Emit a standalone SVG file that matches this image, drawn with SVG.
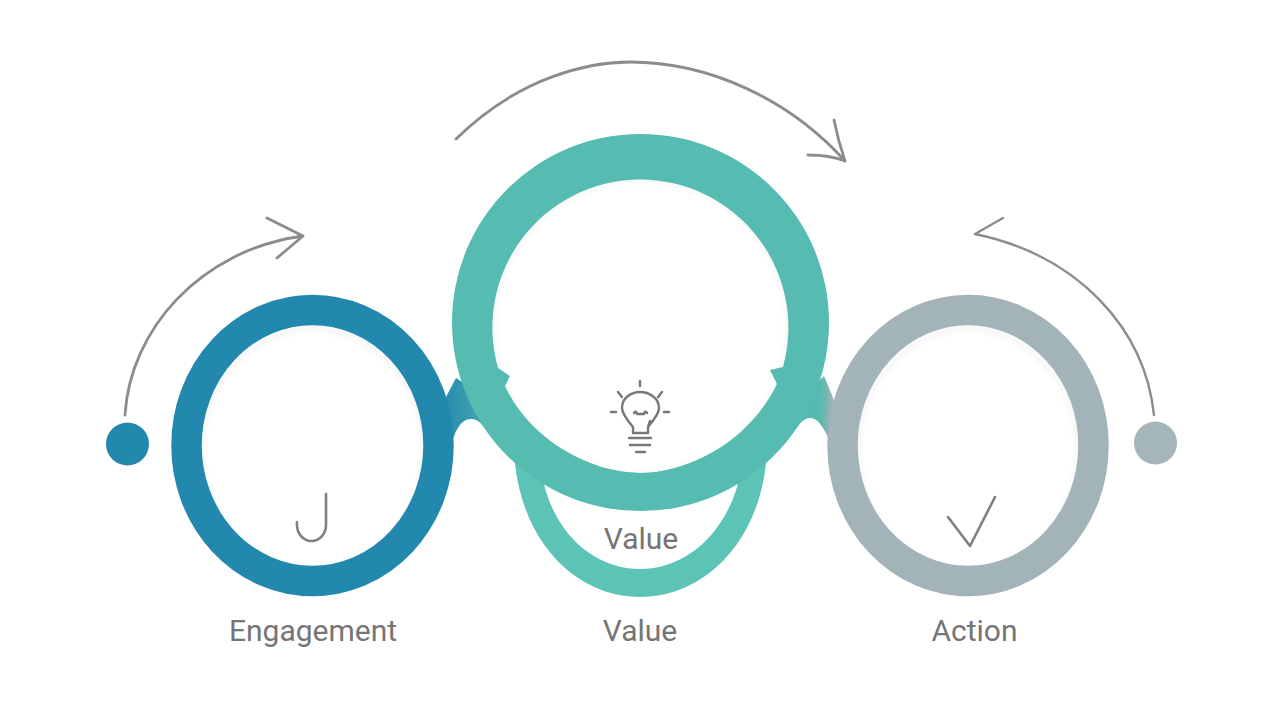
<svg xmlns="http://www.w3.org/2000/svg" width="1280" height="720" viewBox="0 0 1280 720">
<style>
.lbl{font-family:Roboto,"Liberation Sans",sans-serif;font-size:30px;fill:#757575;text-anchor:middle}
.arrow{fill:none;stroke:#8c8c8c;stroke-width:2.800;stroke-linecap:round;stroke-linejoin:round}
.thin{stroke-width:2.400}
.icon{fill:none;stroke:#808080;stroke-width:2.600;stroke-linecap:round;stroke-linejoin:round}
.bulb{fill:none;stroke:#777;stroke-width:2.400;stroke-linecap:round;stroke-linejoin:round}
.shade{fill:none;stroke:#c9c6d2;stroke-width:4;opacity:.22;filter:url(#soft)}
</style>
<defs>
<linearGradient id="bl" x1="0" x2="1" y1="0" y2="0"><stop offset="0" stop-color="#2388ae"/><stop offset="1" stop-color="#48acb0"/></linearGradient>
<linearGradient id="br" x1="0" x2="1" y1="0" y2="0"><stop offset="0" stop-color="#55b9ae"/><stop offset=".6" stop-color="#58b9ae"/><stop offset=".85" stop-color="#9db3b5"/></linearGradient>
<filter id="soft" x="-10%" y="-10%" width="120%" height="120%"><feGaussianBlur stdDeviation="2.500"/></filter>
</defs>
<rect width="1280" height="720" fill="#fff"/>
<g id="connectors">
<path class="arrow" d="M125,415C130,330 200,250 303,236M267,218L303,236L277,258"/>
<path class="arrow" d="M456,139C520,76 590,62 630,62C710,62 790,100 845,161M808,155Q830,155 845,161Q838,140 834,120"/>
<path class="arrow thin" d="M1154,415C1145,330 1080,256 975,234L1003,218"/>
<path fill="url(#bl)" d="M440,400L446,397L456,378L490,400L484,427C480,422 477,419 471,419C461,419 456,430 452,442L440,440Z"/>
<path fill="url(#br)" d="M800,400L824,376L832,395L838,412L838,440L828,437C822,425 817,418 810,418C804,418 800,423 796,429Z"/>
</g>
<g id="engagement">
<ellipse cx="312.500" cy="450" rx="111" ry="121" class="shade"/>
<ellipse cx="312.500" cy="445.500" rx="126" ry="135.500" fill="none" stroke="#2388ae" stroke-width="30.500"/>
<path class="icon" d="M326,494V525A14.500,16 0 0 1 297,525V522"/>
<text class="lbl" x="313" y="641">Engagement</text>
</g>
<g id="value-lower">
<path fill="#5cc4b6" d="M514,450C518,540 575,597 640,597C705,597 763,540 767,450Z"/>
<path fill="#fff" d="M543,480C555,535 595,569 640,569C685,569 725,535 739,480Z"/>
<text class="lbl" x="641" y="549">Value</text>
<text class="lbl" x="640" y="641">Value</text>
</g>
<g id="value-main">
<path fill="#fff" d="M498,368L510,376L505,386C530,440 590,473 640,473C690,473 750,440 777,384L770,370L783,367A148,148 0 1 0 498,368Z"/>
<circle cx="640.500" cy="327" r="148" class="shade"/>
<path fill="#56bbb0" fill-rule="evenodd" d="M452,322.500A188.500,188.500 0 1 1 829,322.500A188.500,188.500 0 1 1 452,322.500ZM498,368L510,376L505,386C530,440 590,473 640,473C690,473 750,440 777,384L770,370L783,367A148,148 0 1 0 498,368Z"/>
<path class="bulb" d="M633,433V427C628,421 622,414 622,408C622,398 631,392 640,392C649,392 659,398 659,408C659,414 653,421 648,427V433ZM634,413Q636,410 637,414H644Q645,410 647,413M650,421L648,427"/>
<path class="bulb" d="M629,438H651M630,445H650M636,452H645M640,381V386M618,392L622,397M662,392L658,397M611,412H616M664,412H669"/>
</g>
<g id="action">
<ellipse cx="968" cy="450" rx="110" ry="121" class="shade"/>
<ellipse cx="968" cy="445.500" rx="125.500" ry="135.500" fill="none" stroke="#a3b4b8" stroke-width="30.500"/>
<path class="icon" d="M948,517L970,546L995,497"/>
<text class="lbl" x="974.500" y="641">Action</text>
</g>
<g id="dots">
<circle cx="127.500" cy="444" r="21.500" fill="#2388ae"/>
<circle cx="1155.500" cy="443" r="21.500" fill="#a5b6ba"/>
</g>
</svg>
